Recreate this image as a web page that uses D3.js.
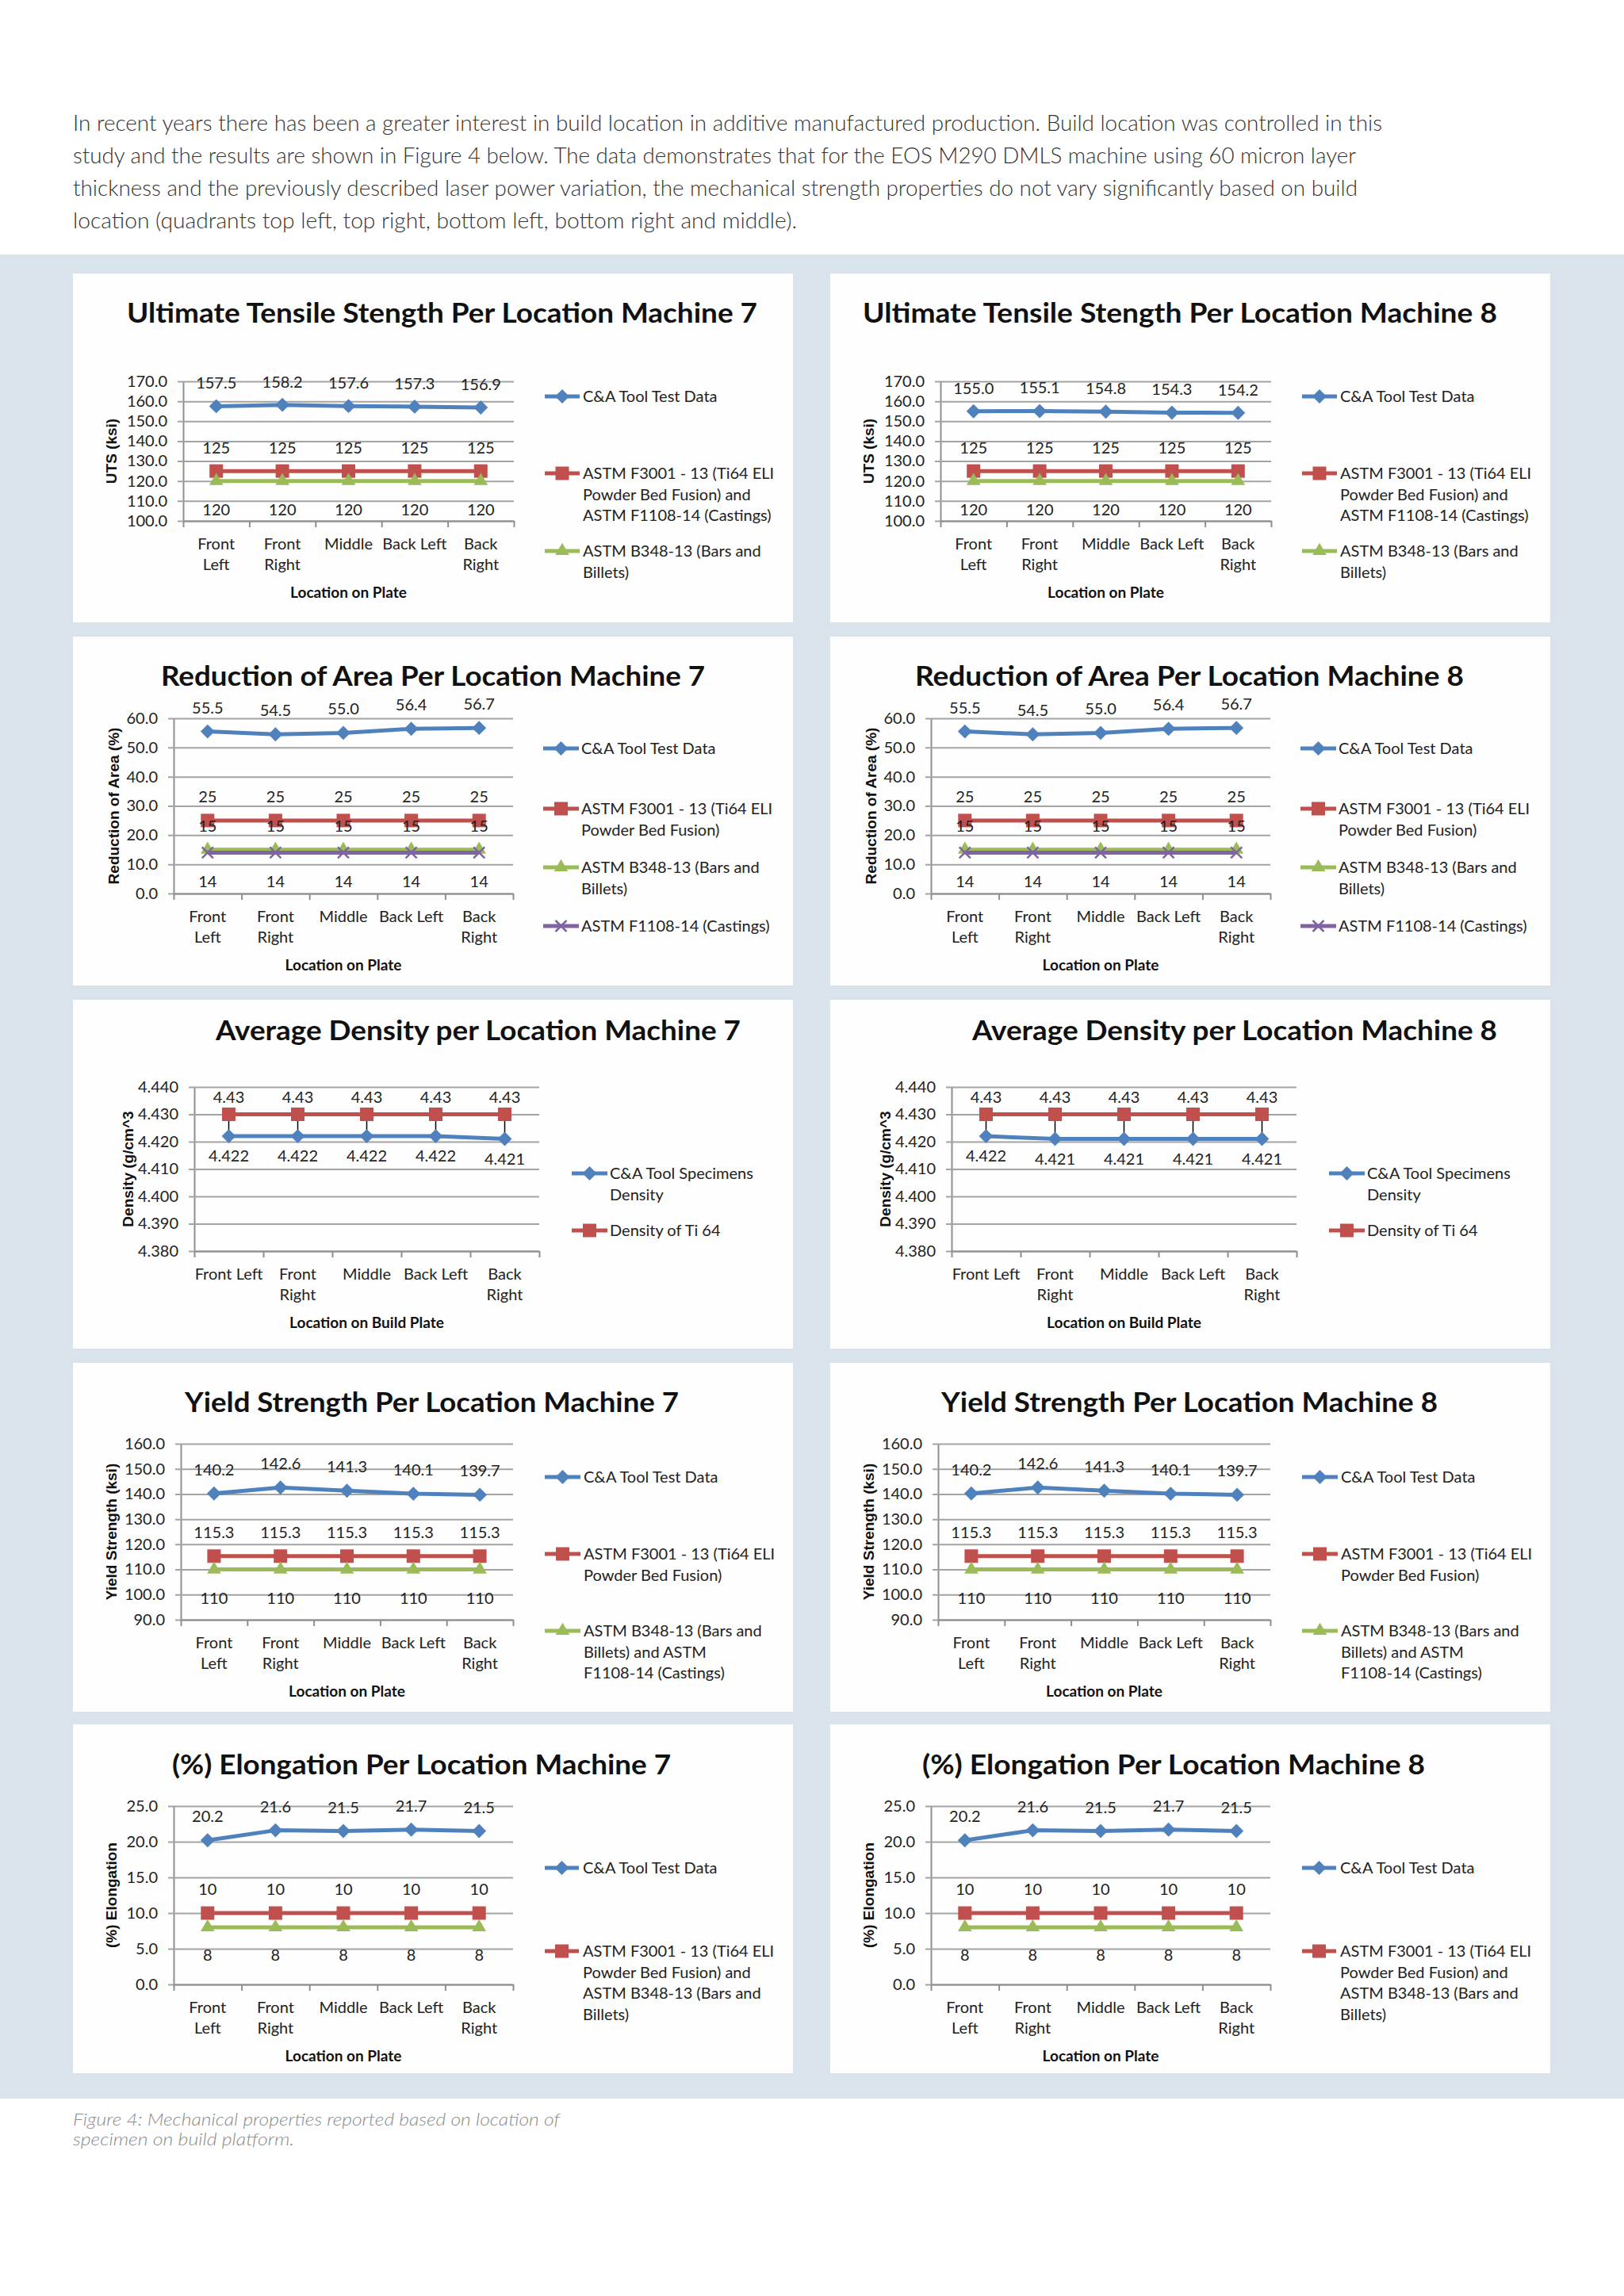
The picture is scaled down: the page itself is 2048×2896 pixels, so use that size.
<!DOCTYPE html>
<html>
<head>
<meta charset="utf-8">
<script src="https://cdn.jsdelivr.net/npm/d3@7"></script>
<style>
  body { margin: 0; background: #fff; }
  svg { display: block; }
</style>
</head>
<body>
<div class="page"></div>
<script>
var NS = {}; // namespace
NS.width = 2048;
NS.height = 2896;
NS.panelW = 908;
NS.panelH = 440;
NS.cols = [92, 1047];
NS.rows = [345, 803, 1261, 1719, 2175];

// categories / tick labels
var locations = ["Front Left", "Front Right", "Middle", "Back Left", "Back Right"];
var locationLines = [["Front", "Left"], ["Front", "Right"], ["Middle"], ["Back Left"], ["Back", "Right"]];
var locationLinesWide = [["Front Left"], ["Front", "Right"], ["Middle"], ["Back Left"], ["Back", "Right"]];

// ultimate tensile strength (ksi)
var utsM7 = [157.5, 158.2, 157.6, 157.3, 156.9];
var utsM8 = [155.0, 155.1, 154.8, 154.3, 154.2];
var utsF3001 = [125, 125, 125, 125, 125];
var utsB348 = [120, 120, 120, 120, 120];

// reduction of area (%)
var roaM7 = [55.5, 54.5, 55.0, 56.4, 56.7];
var roaM8 = [55.5, 54.5, 55.0, 56.4, 56.7];
var roaF3001 = [25, 25, 25, 25, 25];
var roaB348 = [15, 15, 15, 15, 15];
var roaF1108 = [14, 14, 14, 14, 14];

// density (g/cm^3)
var densM7 = [4.422, 4.422, 4.422, 4.422, 4.421];
var densM8 = [4.422, 4.421, 4.421, 4.421, 4.421];
var densTi64 = [4.43, 4.43, 4.43, 4.43, 4.43];

// yield strength (ksi)
var ysM7 = [140.2, 142.6, 141.3, 140.1, 139.7];
var ysM8 = [140.2, 142.6, 141.3, 140.1, 139.7];
var ysF3001 = [115.3, 115.3, 115.3, 115.3, 115.3];
var ysB348 = [110, 110, 110, 110, 110];

// elongation (%)
var elM7 = [20.2, 21.6, 21.5, 21.7, 21.5];
var elM8 = [20.2, 21.6, 21.5, 21.7, 21.5];
var elF3001 = [10, 10, 10, 10, 10];
var elB348 = [8, 8, 8, 8, 8];

var introLines = [
  "In recent years there has been a greater interest in build location in additive manufactured production. Build location was controlled in this",
  "study and the results are shown in Figure 4 below. The data demonstrates that for the EOS M290 DMLS machine using 60 micron layer",
  "thickness and the previously described laser power variation, the mechanical strength properties do not vary significantly based on build",
  "location (quadrants top left, top right, bottom left, bottom right and middle)."
];
var captionLines = [
  "Figure 4: Mechanical properties reported based on location of",
  "specimen on build platform."
];

var C = { blue: "#4f81bd", red: "#c0504d", green: "#9bbb59", purple: "#8064a2" };
var f1 = d3.format(".1f"), f3 = d3.format(".3f"), plain = function(d) { return String(d); };

// legend names
var lgCA = ["C&A Tool Test Data"];
var lgUtsF3001 = ["ASTM F3001 - 13 (Ti64 ELI", "Powder Bed Fusion) and", "ASTM F1108-14 (Castings)"];
var lgB348 = ["ASTM B348-13 (Bars and", "Billets)"];
var lgF3001 = ["ASTM F3001 - 13 (Ti64 ELI", "Powder Bed Fusion)"];
var lgF1108 = ["ASTM F1108-14 (Castings)"];
var lgYsB348 = ["ASTM B348-13 (Bars and", "Billets) and ASTM", "F1108-14 (Castings)"];
var lgElF3001 = ["ASTM F3001 - 13 (Ti64 ELI", "Powder Bed Fusion) and", "ASTM B348-13 (Bars and", "Billets)"];

function series(values, color, marker, pos, fmt, legend) {
  return { values: values, color: color, marker: marker, pos: pos, fmt: fmt, legend: legend };
}

var layouts = {
  uts:  { left: 139, right: 556, top: 136, bottom: 312, ytx: 48, tY: 62, lx1: 595, lx2: 639, ltx: 643, ly: [155, 252, 350], above: 29, below: 36 },
  roa:  { left: 127, right: 555, top: 103, bottom: 324, ytx: 51, tY: 62, lx1: 593, lx2: 638, ltx: 641, ly: [141, 217, 291, 365], above: 30, below: 37 },
  dens: { left: 153, right: 588, top: 110, bottom: 317, ytx: 69, tY: 51, lx1: 629, lx2: 674, ltx: 677, ly: [219, 291], above: 22, below: 25 },
  ys:   { left: 136, right: 555, top: 102, bottom: 324, ytx: 48, tY: 62, lx1: 595, lx2: 640, ltx: 644, ly: [144, 241, 338], above: 30, below: 36 },
  el:   { left: 127, right: 555, top: 103, bottom: 328, ytx: 48, tY: 63, lx1: 595, lx2: 638, ltx: 643, ly: [181, 286], above: 30, below: 35 }
};

function utsChart(m, vals, tx, tw) {
  return { title: "Ultimate Tensile Stength Per Location Machine " + m, tx: tx, tw: tw,
    yTitle: "UTS (ksi)", xTitle: "Location on Plate", domain: [100, 170], step: 10, tickFmt: f1,
    cats: locationLines, L: layouts.uts,
    series: [series(vals, C.blue, "diamond", "above", f1, lgCA),
             series(utsF3001, C.red, "square", "above", plain, lgUtsF3001),
             series(utsB348, C.green, "triangle", "below", plain, lgB348)] };
}
function roaChart(m, vals, tx, tw) {
  return { title: "Reduction of Area Per Location Machine " + m, tx: tx, tw: tw,
    yTitle: "Reduction of Area (%)", xTitle: "Location on Plate", domain: [0, 60], step: 10, tickFmt: f1,
    cats: locationLines, L: layouts.roa,
    series: [series(vals, C.blue, "diamond", "above", f1, lgCA),
             series(roaF3001, C.red, "square", "above", plain, lgF3001),
             series(roaB348, C.green, "triangle", "above", plain, lgB348),
             series(roaF1108, C.purple, "x", "below", plain, lgF1108)] };
}
function densChart(m, vals, tx, tw) {
  return { title: "Average Density per Location Machine " + m, tx: tx, tw: tw,
    yTitle: "Density (g/cm^3", xTitle: "Location on Build Plate", domain: [4.38, 4.44], step: 0.01, tickFmt: f3,
    cats: locationLinesWide, L: layouts.dens, hiLo: true,
    series: [series(vals, C.blue, "diamond", "below", f3, ["C&A Tool Specimens", "Density"]),
             series(densTi64, C.red, "square", "above", plain, ["Density of Ti 64"])] };
}
function ysChart(m, vals, tx, tw) {
  return { title: "Yield Strength Per Location Machine " + m, tx: tx, tw: tw,
    yTitle: "Yield Strength (ksi)", xTitle: "Location on Plate", domain: [90, 160], step: 10, tickFmt: f1,
    cats: locationLines, L: layouts.ys,
    series: [series(vals, C.blue, "diamond", "above", f1, lgCA),
             series(ysF3001, C.red, "square", "above", plain, lgF3001),
             series(ysB348, C.green, "triangle", "below", plain, lgYsB348)] };
}
function elChart(m, vals, tx, tw) {
  return { title: "(%) Elongation Per Location Machine " + m, tx: tx, tw: tw,
    yTitle: "(%) Elongation", xTitle: "Location on Plate", domain: [0, 25], step: 5, tickFmt: f1,
    cats: locationLines, L: layouts.el,
    series: [series(vals, C.blue, "diamond", "above", f1, lgCA),
             series(elF3001, C.red, "square", "above", plain, lgElF3001),
             series(elB348, C.green, "triangle", "below", plain, null)] };
}

var charts = [
  [utsChart(7, utsM7, 68, 795), utsChart(8, utsM8, 41, 800)],
  [roaChart(7, roaM7, 111, 686), roaChart(8, roaM8, 107, 692)],
  [densChart(7, densM7, 180, 662), densChart(8, densM8, 179, 662)],
  [ysChart(7, ysM7, 141, 623), ysChart(8, ysM8, 140, 626)],
  [elChart(7, elM7, 125, 629), elChart(8, elM8, 116, 634)]
];

function makeSVG() {
  NS.svg = d3.select(".page").append("svg")
    .attr("width", NS.width)
    .attr("height", NS.height)
    .style("font-family", "Lato, 'Open Sans', sans-serif");
  NS.svg.append("rect").attr("width", NS.width).attr("height", NS.height).attr("fill", "#ffffff");
}

function markerPath(type) {
  if (type == "diamond") return d3.symbol().type(d3.symbolSquare).size(160)();
  if (type == "square") return d3.symbol().type(d3.symbolSquare).size(289)();
  if (type == "triangle") return d3.symbol().type(d3.symbolTriangle).size(135)();
  return "M-7,-7L7,7M-7,7L7,-7";
}

function drawMarker(sel, s) {
  sel.attr("d", markerPath(s.marker))
    .attr("transform", function() { return d3.select(this).attr("data-t") + (s.marker == "diamond" ? " rotate(45)" : ""); })
    .attr("fill", s.marker == "x" ? "none" : s.color)
    .attr("stroke", s.marker == "x" ? s.color : "none")
    .attr("stroke-width", 2.5);
}

function drawChart(cfg, px, py) {
  var L = cfg.L;
  var g = NS.svg.append("g").attr("transform", "translate(" + px + "," + py + ")");
  g.append("rect").attr("width", NS.panelW).attr("height", NS.panelH).attr("fill", "#fefefe");

  // title
  g.append("text")
    .attr("x", cfg.tx).attr("y", L.tY)
    .attr("textLength", cfg.tw).attr("lengthAdjust", "spacingAndGlyphs")
    .attr("font-size", 35).attr("font-weight", 700).attr("fill", "#111")
    .text(cfg.title);

  var x = d3.scaleBand().domain(locations).range([L.left, L.right]);
  var bw = x.bandwidth();
  var cx = function(i) { return x(locations[i]) + bw / 2; };
  var y = d3.scaleLinear().domain(cfg.domain).range([L.bottom, L.top]);
  var ticks = d3.range(0, Math.round((cfg.domain[1] - cfg.domain[0]) / cfg.step) + 1)
    .map(function(k) { return cfg.domain[0] + k * cfg.step; });

  // y axis with gridlines
  var yAxis = g.append("g")
    .attr("transform", "translate(" + L.left + ",0)")
    .call(d3.axisLeft(y).tickValues(ticks).tickFormat(cfg.tickFmt)
      .tickSizeInner(-(L.right - L.left)).tickSizeOuter(0).tickPadding(20));
  yAxis.select(".domain").attr("stroke", "#8f8f8f").attr("stroke-width", 2);
  yAxis.selectAll(".tick line").attr("x1", -7).attr("stroke", "#a3a3a3").attr("stroke-width", 2);
  yAxis.selectAll(".tick text").attr("font-size", 20).attr("fill", "#222").attr("font-family", "Lato, sans-serif");

  // x axis: ticks at category boundaries
  var xb = d3.scaleLinear().domain([0, locations.length]).range([L.left, L.right]);
  var xAxis = g.append("g")
    .attr("transform", "translate(0," + L.bottom + ")")
    .call(d3.axisBottom(xb).tickValues(d3.range(locations.length + 1)).tickFormat("").tickSizeInner(8).tickSizeOuter(0));
  xAxis.select(".domain").attr("stroke", "#8f8f8f").attr("stroke-width", 2);
  xAxis.selectAll(".tick line").attr("stroke", "#8f8f8f").attr("stroke-width", 2);

  // category labels
  var cat = g.append("g").selectAll("text").data(cfg.cats).enter().append("text")
    .attr("x", function(d, i) { return cx(i); })
    .attr("y", L.bottom + 29)
    .attr("text-anchor", "middle").attr("font-size", 20).attr("fill", "#222");
  cat.selectAll("tspan").data(function(d) { return d; }).enter().append("tspan")
    .attr("x", function() { return d3.select(this.parentNode).attr("x"); })
    .attr("dy", function(d, i) { return i == 0 ? "0.35em" : 26; })
    .text(function(d) { return d; });

  // axis titles
  g.append("text")
    .attr("x", (L.left + L.right) / 2).attr("y", L.bottom + 90).attr("dy", "0.35em")
    .attr("text-anchor", "middle").attr("font-size", 19).attr("font-weight", 700).attr("fill", "#111")
    .text(cfg.xTitle);
  g.append("text")
    .attr("transform", "translate(" + L.ytx + "," + ((L.top + L.bottom) / 2) + ") rotate(-90)")
    .attr("dy", "0.35em").attr("text-anchor", "middle")
    .attr("font-family", "'Liberation Sans', Arial, sans-serif")
    .attr("font-size", 19).attr("font-weight", 700).attr("fill", "#111")
    .text(cfg.yTitle);

  // high-low lines between the two density series
  if (cfg.hiLo) {
    var a = cfg.series[0].values, b = cfg.series[1].values;
    g.append("g").selectAll("line").data(a).enter().append("line")
      .attr("x1", function(d, i) { return cx(i); }).attr("x2", function(d, i) { return cx(i); })
      .attr("y1", function(d) { return y(d); }).attr("y2", function(d, i) { return y(b[i]); })
      .attr("stroke", "#000").attr("stroke-width", 1.5);
  }

  var line = d3.line().x(function(d, i) { return cx(i); }).y(function(d) { return y(d); });

  cfg.series.forEach(function(s) {
    g.append("path").datum(s.values)
      .attr("d", line).attr("fill", "none")
      .attr("stroke", s.color).attr("stroke-width", 5).attr("stroke-linejoin", "round");
    g.append("g").selectAll("path").data(s.values).enter().append("path")
      .attr("data-t", function(d, i) { return "translate(" + cx(i) + "," + y(d) + ")"; })
      .call(drawMarker, s);
  });

  // data labels
  cfg.series.forEach(function(s) {
    g.append("g").selectAll("text").data(s.values).enter().append("text")
      .attr("x", function(d, i) { return cx(i); })
      .attr("y", function(d) { return s.pos == "above" ? y(d) - L.above : y(d) + L.below; })
      .attr("dy", "0.35em").attr("text-anchor", "middle")
      .attr("font-size", 20).attr("fill", "#222")
      .text(s.fmt);
  });

  // legend
  var li = 0;
  cfg.series.forEach(function(s) {
    if (!s.legend) return;
    var ly = L.ly[li++];
    var lg = g.append("g");
    lg.append("line").attr("x1", L.lx1).attr("x2", L.lx2).attr("y1", ly).attr("y2", ly)
      .attr("stroke", s.color).attr("stroke-width", 5);
    lg.append("path").attr("data-t", "translate(" + ((L.lx1 + L.lx2) / 2) + "," + ly + ")")
      .call(drawMarker, s);
    lg.append("g").selectAll("text").data(s.legend).enter().append("text")
      .attr("x", L.ltx).attr("y", function(d, i) { return ly + i * 26.5; })
      .attr("dy", "0.35em").attr("font-size", 20).attr("fill", "#222")
      .text(function(d) { return d; });
  });
}

function main() {
  makeSVG();

  // intro paragraph
  var introWidths = [1651, 1618, 1620, 913];
  NS.svg.append("g").selectAll("text").data(introLines).enter().append("text")
    .attr("x", 92).attr("y", function(d, i) { return 165 + i * 41; })
    .attr("textLength", function(d, i) { return introWidths[i]; })
    .attr("lengthAdjust", "spacingAndGlyphs")
    .attr("font-size", 28).attr("font-weight", 300).attr("fill", "#333")
    .text(function(d) { return d; });

  // figure band
  NS.svg.append("rect").attr("x", 0).attr("y", 321).attr("width", NS.width).attr("height", 2647 - 321)
    .attr("fill", "#dae3ec");

  charts.forEach(function(row, r) {
    row.forEach(function(cfg, c) {
      drawChart(cfg, NS.cols[c], NS.rows[r]);
    });
  });

  // caption
  var capWidths = [614, 279];
  NS.svg.append("g").selectAll("text").data(captionLines).enter().append("text")
    .attr("x", 92).attr("y", function(d, i) { return 2681 + i * 25; })
    .attr("textLength", function(d, i) { return capWidths[i]; })
    .attr("lengthAdjust", "spacingAndGlyphs")
    .attr("font-size", 22).attr("font-style", "italic").attr("font-weight", 300).attr("fill", "#8a8a8a")
    .text(function(d) { return d; });
}

main();
</script>
</body>
</html>
